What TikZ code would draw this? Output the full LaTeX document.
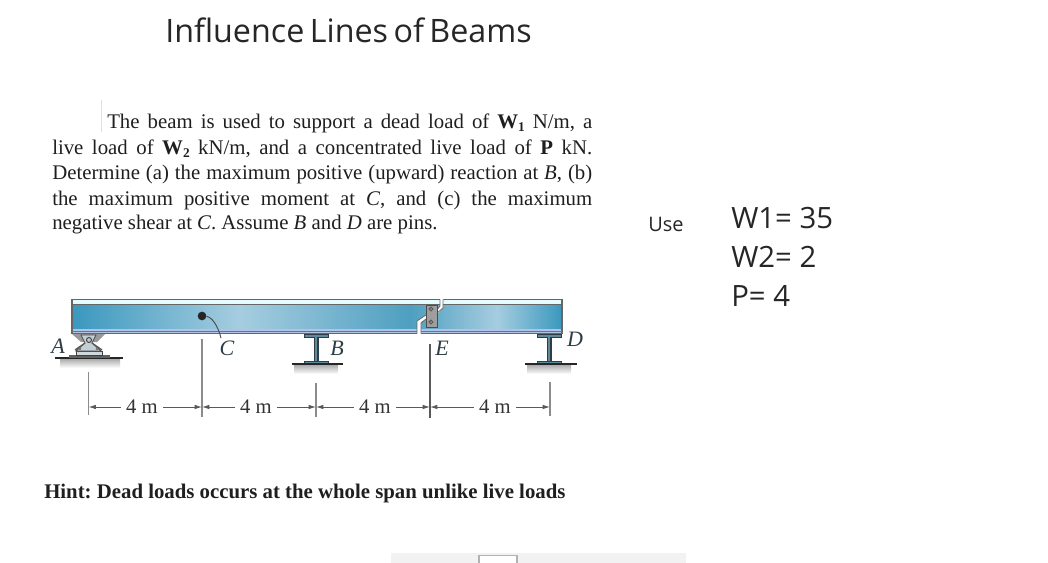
\documentclass[tikz,border=0pt]{standalone}
\usepackage{fontspec}
\setmainfont{Liberation Serif}
\newfontfamily\uifont{Open Sans}
\usetikzlibrary{arrows.meta}
\newcommand{\bsub}[1]{\textbf{W\lower2.2pt\hbox{\fontsize{10}{10}\selectfont\bfseries #1}}}
\definecolor{steelblue}{HTML}{5F8A9C}
\definecolor{steeldark}{HTML}{2F3E46}
\tikzset{
  x=0.75pt,y=-0.75pt,
  bodyline/.style={anchor=base west,inner sep=0pt,font=\fontsize{15.6}{18}\selectfont,text=black!88},
  uitext/.style={anchor=base west,inner sep=0pt,font=\uifont\fontsize{22}{26}\selectfont,text=black!85},
  extline/.style={draw=black!45,line width=0.8pt},
  dimline/.style={draw=black!65,line width=0.7pt,-{Latex[length=5.5pt,width=3.4pt]}},
  beamlabel/.style={inner sep=0pt,font=\fontsize{16.5}{18}\selectfont\itshape,text=steeldark},
  dimlabel/.style={inner sep=0pt,font=\fontsize{15.5}{16}\selectfont,text=black!80},
  shadowbar/.style={top color=black!32,bottom color=white,draw=none},
}
\begin{document}
\frenchspacing
\begin{tikzpicture}
\useasboundingbox (0,0) rectangle (1048,563);
\fill[white] (0,0) rectangle (1048,563);
% title
\node[anchor=base west,inner sep=0pt,font=\uifont\fontsize{24.2}{28}\selectfont,text=black!85] (title) at (165,43) {\spaceskip=0.17em Influence Lines of Beams};
% faint line
\draw[draw=blue!8!black!12,line width=0.7pt] (101,100) -- (101,132);
% paragraph
\node[bodyline] (l1) at (107,128.5) {\makebox[363.8pt][s]{The beam is used to support a dead load of \bsub{1} N/m, a}};
\node[bodyline] (l2) at (52,154.5) {\makebox[405pt][s]{live load of \bsub{2} kN/m, and a concentrated live load of \textbf{P} kN.}};
\node[bodyline] (l3) at (52,179) {\makebox[405pt][s]{Determine (a) the maximum positive (upward) reaction at \textit{B}, (b)}};
\node[bodyline] (l4) at (52,205) {\makebox[405pt][s]{the maximum positive moment at \textit{C}, and (c) the maximum}};
\node[bodyline] (l5) at (52,229) {negative shear at \textit{C}. Assume \textit{B} and \textit{D} are pins.};
% right text
\node[uitext,font=\uifont\fontsize{15}{18}\selectfont] (use) at (648,231) {Use};
\node[uitext] (w1) at (731,228) {W1= 35};
\node[uitext] (w2) at (731,267) {W2= 2};
\node[uitext] (p) at (731,306) {P= 4};
% hint
\node[anchor=base west,inner sep=0pt,font=\fontsize{15.6}{18}\selectfont\bfseries,text=black!88] (hint) at (44,498) {Hint: Dead loads occurs at the whole span unlike live loads};
% beam
\definecolor{bdark}{HTML}{3A98BE}
\definecolor{blight}{HTML}{A6CDE0}
\definecolor{bdark2}{HTML}{4E9FC0}
\fill[left color=bdark,right color=blight] (72,304) rectangle (240,329);
\fill[left color=blight,right color=bdark2] (240,304) rectangle (410,329);
\fill[left color=bdark2,right color=blight] (410,304) rectangle (497,329);
\fill[left color=blight,right color=bdark] (497,304) rectangle (562,329);
\fill[fill=blue!10!cyan!10] (72,299.5) rectangle (562,304.5);
\fill[fill=cyan!45!blue!30!white] (72,329) rectangle (562,333);
\draw[black!60,line width=0.9pt] (72,299.5) -- (562,299.5) -- (562,333.5) -- (72,333.5) -- cycle;
\draw[black!60,line width=0.8pt] (72,304.5) -- (562,304.5);
\draw[black!55,line width=0.6pt] (72,331.5) -- (562,331.5);
% joint gap
\fill[white] (440,298) -- (443,298) -- (443,308) -- (437,314) -- (421,322) -- (421,335) -- (417,335) -- (417,321) -- (426,315) -- (436,311) -- (440,306) -- cycle;
\draw[black!60,line width=0.6pt] (440,299.5) -- (440,306) -- (436,311);
\draw[black!60,line width=0.6pt] (443,299.5) -- (443,308) -- (437,313);
\draw[black!60,line width=0.6pt] (417,333.5) -- (417,321) -- (426,315);
\draw[black!60,line width=0.6pt] (421,333.5) -- (421,323) -- (426,319);
\fill[fill=black!38,draw=black!70,line width=0.6pt] (426,305) rectangle (437,327);
\foreach \yy in {309,322} {\draw[fill=white,draw=black!65,line width=1pt] (431,\yy) circle (1.7);}
% support A
\fill[shadowbar] (60,359) rectangle (120,368);
\draw[black!85,line width=1pt] (55,358) -- (123,358);
\fill[black!62] (69,355) rectangle (110,358);
\fill[fill=cyan!30!black!22,draw=black!75,line width=0.5pt] (76,351) rectangle (102,355);
\fill[black!40] (72,334) -- (105,334) -- (97,342) -- (81,342) -- cycle;
\fill[fill=cyan!35!black!28,draw=black!70,line width=0.6pt] (81,335) -- (96,335) -- (92,343) -- (101,351) -- (76,351) -- (85,343) -- cycle;
\draw[black!65,line width=1pt] (75,350) -- (85,343) (102,350) -- (92,343);
\foreach \bx in {80,97} {\fill[black!55] (\bx,349) circle (1.3);}
\draw[fill=black!22,draw=black!70,line width=0.8pt] (89,340) circle (2.5);
% supports B, D
\foreach \cx/\ll/\rr in {316/24/27,549/24/28} {
  \fill[shadowbar] (\cx-22,365) rectangle (\cx+22,374);
  \fill[fill=steelblue,draw=steeldark,line width=0.5pt] (\cx-12,334) rectangle (\cx+12,337);
  \fill[fill=steeldark] (\cx-2.5,337) rectangle (\cx+2.5,362);
  \fill[fill=steelblue] (\cx-0.9,337) rectangle (\cx+0.9,362);
  \fill[fill=steelblue,draw=steeldark,line width=0.5pt] (\cx-12,361) rectangle (\cx+12,364);
  \draw[black!85,line width=1pt] (\cx-\ll,364) -- (\cx+\rr,364);
}
% leader
\node[circle,fill=black!85,inner sep=0pt,minimum size=6.5pt] (cdot) at (202,316) {};
\coordinate (cend) at (221,338);
\draw[black!70,line width=0.7pt] (cdot) .. controls (212,317) and (218,326) .. (cend);
% labels
\node[beamlabel] (la) at (58,346) {A};
\node[beamlabel] (lc) at (227,348) {C};
\node[beamlabel] (lb) at (337,348) {B};
\node[beamlabel] (le) at (442,348) {E};
\node[beamlabel] (ld) at (575,339) {D};
% extension lines
\coordinate (a1) at (88.5,372); \coordinate (a2) at (88.5,415);
\coordinate (c1) at (202,339);  \coordinate (c2) at (202,417);
\coordinate (b1) at (316,383);  \coordinate (b2) at (316,417);
\coordinate (e1) at (430,344);  \coordinate (e2) at (430,418);
\coordinate (d1) at (550,382);  \coordinate (d2) at (550,416);
\draw[extline] (a1) -- (a2);
\draw[extline] (c1) -- (c2);
\draw[extline] (b1) -- (b2);
\draw[extline,black!65] (e1) -- (e2);
\draw[extline] (d1) -- (d2);
% dimensions
\node[dimlabel] (m1) at (142,407) {4 m};
\node[dimlabel] (m2) at (256,407) {4 m};
\node[dimlabel] (m3) at (375,407) {4 m};
\node[dimlabel] (m4) at (495,407) {4 m};
\coordinate (ya) at (88.5,407); \coordinate (yc) at (202,407);
\coordinate (yb) at (316,407);  \coordinate (ye) at (430,407);
\coordinate (yd) at (550,407);
\draw[dimline] ([xshift=-4pt]m1.west) -- (ya);
\draw[dimline] ([xshift=4pt]m1.east) -- (yc);
\draw[dimline] ([xshift=-4pt]m2.west) -- (yc);
\draw[dimline] ([xshift=4pt]m2.east) -- (yb);
\draw[dimline] ([xshift=-4pt]m3.west) -- (yb);
\draw[dimline] ([xshift=4pt]m3.east) -- (ye);
\draw[dimline] ([xshift=-4pt]m4.west) -- (ye);
\draw[dimline] ([xshift=4pt]m4.east) -- (yd);
% bottom bar
\fill[fill=black!5] (391,553) rectangle (686,563);
\fill[fill=white] (479,555) rectangle (517,563);
\draw[black!30,line width=0.8pt] (479,563) -- (479,555.5) -- (517,555.5) -- (517,563);
\end{tikzpicture}
\end{document}
